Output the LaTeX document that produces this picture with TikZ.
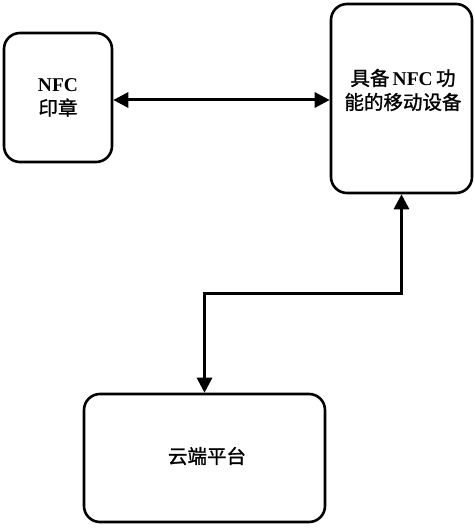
\documentclass[tikz,border=0pt]{standalone}
\usepackage{fontspec}
\setmainfont{Liberation Serif}
\newfontfamily\cjk{Noto Sans CJK SC}[FakeBold=1.2]
\usetikzlibrary{arrows.meta}
\tikzset{
  box/.style={draw, line width=2.6pt, rounded corners=16pt, inner sep=0pt},
  lbl/.style={font=\fontsize{19.5}{24}\selectfont, align=center, inner sep=0pt},
  conn/.style={line width=3pt, {Triangle[length=15pt,width=15pt]}-{Triangle[length=15pt,width=15pt]}}
}
\newcommand{\nfcb}{\textbf{NFC}}
\begin{document}
\begin{tikzpicture}[x=1pt,y=-1pt]
\useasboundingbox (0,0) rectangle (474,529);
\node[box, minimum width=108pt, minimum height=129pt] (nfc) at (58,97.5) {};
\node[box, minimum width=141pt, minimum height=189pt] (mob) at (401.5,98.5) {};
\node[box, minimum width=241pt, minimum height=128pt] (cloud) at (204.5,458) {};
\node[lbl] (nfct) at (nfc.center) {\nfcb\\{\cjk 印章}};
\node[lbl] (mobt) at (403,90) {{\cjk 具备}\,\nfcb\,{\cjk 功}\\{\cjk 能的移动设备}};
\node[lbl] (cloudt) at (207,456) {\cjk 云端平台};
\draw[conn] (nfc.east |- 0,100) -- (mob.west |- 0,100);
\draw[conn] (mob.south) -- (mob.south |- 0,293) -| (cloud.north);
\end{tikzpicture}
\end{document}
